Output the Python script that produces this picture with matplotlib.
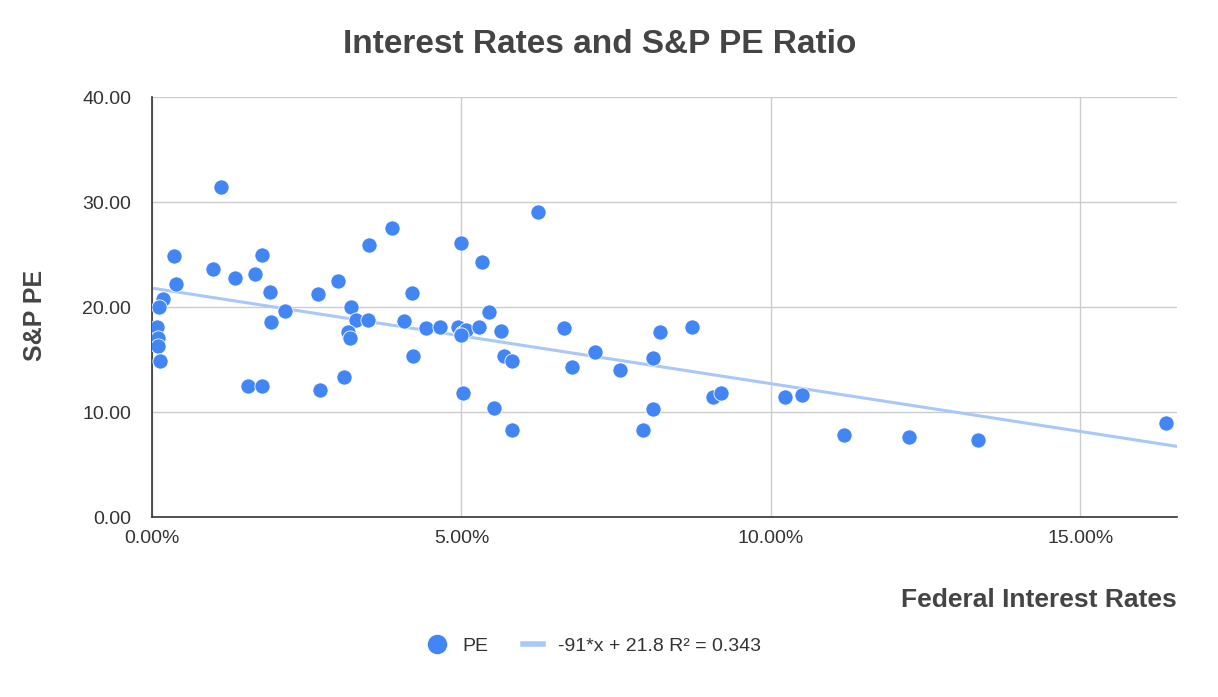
import matplotlib
matplotlib.use("Agg")
import matplotlib.pyplot as plt
from matplotlib.ticker import FuncFormatter
from matplotlib.lines import Line2D
import numpy as np

plt.rcParams['font.family'] = ['Liberation Sans', 'DejaVu Sans']

# Federal interest rate (fraction) and S&P PE ratio
rates = [0.0112, 0.0035, 0.0038, 0.0017, 0.0012, 0.0008, 0.0009, 0.0009, 0.0013,
         0.0099, 0.0134, 0.0167, 0.0178, 0.0191, 0.0215, 0.0193, 0.0155, 0.0178,
         0.0269, 0.0300, 0.0272, 0.0310, 0.0321, 0.0330, 0.0349, 0.0316, 0.0320,
         0.0351, 0.0387, 0.0420, 0.0407, 0.0421, 0.0443, 0.0466, 0.0495, 0.0501,
         0.0500, 0.0502, 0.0623, 0.0533, 0.0507, 0.0500, 0.0529, 0.0545, 0.0564,
         0.0568, 0.0582, 0.0665, 0.0715, 0.0679, 0.0756, 0.0553, 0.0581, 0.0820,
         0.0809, 0.0873, 0.0809, 0.0793, 0.0907, 0.0920, 0.1022, 0.1050, 0.1118,
         0.1223, 0.1334, 0.1638]
pe = [31.46, 24.90, 22.16, 20.78, 20.03, 18.12, 17.02, 16.30, 14.86,
      23.59, 22.73, 23.11, 24.95, 21.43, 19.59, 18.57, 12.45, 12.50,
      21.24, 22.50, 12.10, 13.30, 20.00, 18.76, 18.76, 17.65, 17.08,
      25.93, 27.55, 21.33, 18.70, 15.30, 18.00, 18.10, 18.12, 17.50,
      26.10, 11.84, 29.05, 24.30, 17.80, 17.33, 18.10, 19.52, 17.68,
      15.37, 14.86, 18.03, 15.75, 14.25, 13.97, 10.35, 8.29, 17.62,
      15.14, 18.10, 10.32, 8.26, 11.46, 11.78, 11.46, 11.65, 7.81,
      7.65, 7.33, 8.95]

# Linear trendline shown in the legend
slope = -91
intercept = 21.8
r2 = 0.343

x_max = 0.1656

fig = plt.figure(figsize=(12.18, 6.97), dpi=100)
ax = fig.add_axes([0.1248, 0.2582, 0.9663 - 0.1248, 0.8608 - 0.2582])

tx = np.array([0, x_max])
ax.plot(tx, slope * tx + intercept, color="#a9c8f9", lw=2.2, zorder=2)
ax.scatter(rates, pe, s=120, color="#4285f4", edgecolors="white", linewidths=0.6, zorder=3)

ax.set_xlim(0, x_max)
ax.set_ylim(0, 40)
ax.set_xticks([0, 0.05, 0.10, 0.15])
ax.set_yticks([0, 10, 20, 30, 40])
ax.xaxis.set_major_formatter(FuncFormatter(lambda v, p: f"{v * 100:.2f}%"))
ax.yaxis.set_major_formatter(FuncFormatter(lambda v, p: f"{v:.2f}"))
ax.grid(True, color="#cccccc", lw=1)
ax.set_axisbelow(True)
for side in ["top", "right"]:
    ax.spines[side].set_visible(False)
for side in ["left", "bottom"]:
    ax.spines[side].set_color("#333333")
    ax.spines[side].set_linewidth(1.2)
ax.tick_params(axis="y", length=0, labelsize=14, labelcolor="#333333", pad=15)
ax.tick_params(axis="x", length=0, labelsize=14, labelcolor="#333333", pad=9)

fig.text(0.492, 0.936, "Interest Rates and S&P PE Ratio", ha="center", va="center",
         fontsize=24, fontweight="bold", color="#444444")
fig.text(0.029, 0.547, "S&P PE", rotation=90, ha="center", va="center",
         fontsize=18, fontweight="bold", color="#444444")
fig.text(0.9663, 0.139, "Federal Interest Rates", ha="right", va="center",
         fontsize=19, fontweight="bold", color="#444444")

handles = [
    Line2D([], [], ls="none", marker="o", markersize=13, color="#4285f4"),
    Line2D([], [], color="#a9c8f9", lw=4),
]
labels = ["PE", f"{slope}*x + {intercept} R\u00b2 = {r2}"]
fig.legend(handles, labels, loc="center", bbox_to_anchor=(0.488, 0.073), ncol=2,
           frameon=False, fontsize=14, handlelength=1.0, columnspacing=1.8,
           labelcolor="#333333")

fig.savefig("out.png", dpi=100)
